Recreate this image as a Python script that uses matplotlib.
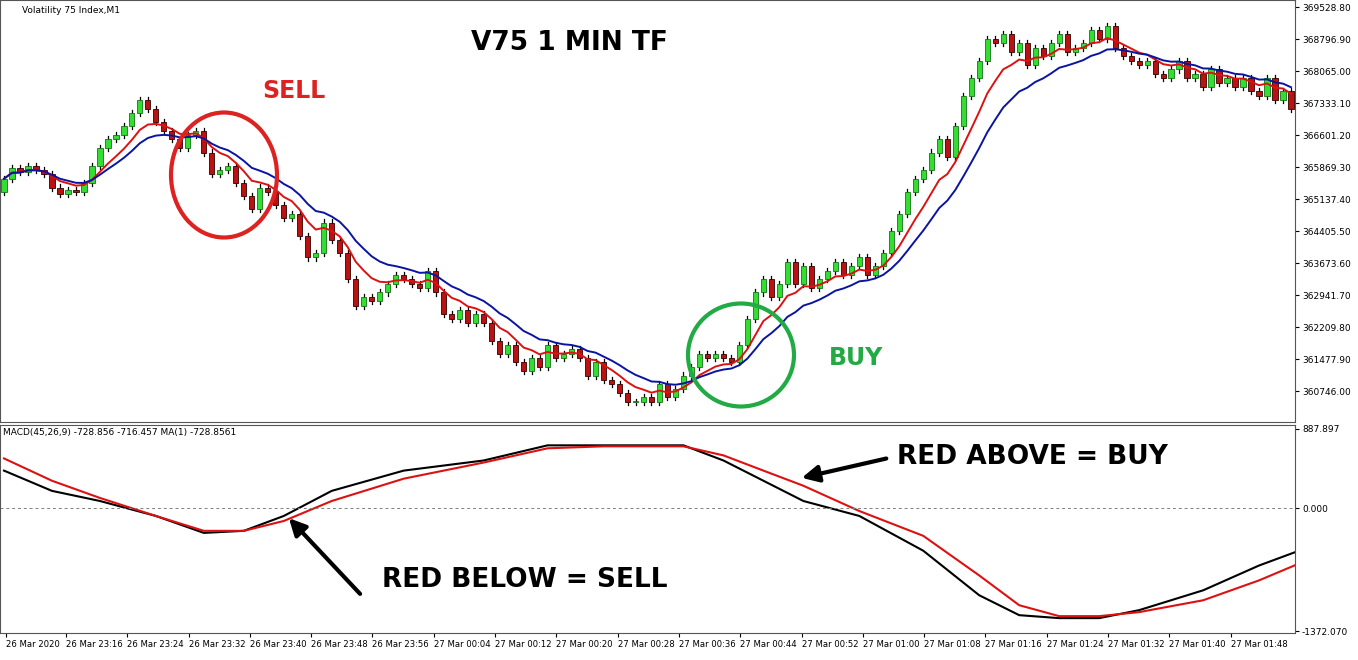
import matplotlib.pyplot as plt
import numpy as np
import pandas as pd
from matplotlib.patches import Ellipse

# candle closes, one per minute
closes = [
    365600, 365850, 365750, 365900, 365800, 365700, 365400, 365250, 365350, 365300,
    365500, 365900, 366300, 366500, 366600, 366800, 367100, 367400, 367200, 366900,
    366700, 366500, 366300, 366600, 366700, 366200, 365700, 365800, 365900, 365500,
    365200, 364900, 365400, 365300, 365000, 364700, 364800, 364300, 363800, 363900,
    364600, 364200, 363900, 363300, 362700, 362900, 362800, 363000, 363200, 363400,
    363300, 363200, 363100, 363500, 363000, 362500, 362400, 362600, 362300, 362500,
    362300, 361900, 361600, 361800, 361400, 361200, 361500, 361300, 361800, 361500,
    361600, 361700, 361500, 361100, 361400, 361000, 360900, 360700, 360500, 360500,
    360600, 360500, 360900, 360600, 360800, 361100, 361300, 361600, 361500, 361600,
    361500, 361400, 361800, 362400, 363000, 363300, 362900, 363200, 363700, 363200,
    363600, 363100, 363300, 363500, 363700, 363400, 363600, 363800, 363400, 363600,
    363900, 364400, 364800, 365300, 365600, 365800, 366200, 366500, 366100, 366800,
    367500, 367900, 368300, 368800, 368700, 368900, 368500, 368700, 368200, 368600,
    368400, 368700, 368900, 368500, 368600, 368700, 369000, 368800, 369100, 368600,
    368400, 368300, 368200, 368300, 368000, 367900, 368100, 368300, 367900, 368000,
    367700, 368100, 367800, 367900, 367700, 367900, 367600, 367500, 367900, 367400,
    367600, 367200,
]
first_open = 365300

# MACD panel (candle index, value)
macd_x = [0, 6, 12, 19, 25, 30, 35, 41, 50, 60, 68, 75, 85, 90, 95, 100,
          107, 115, 122, 127, 132, 137, 142, 150, 157, 162]
macd_main = [418, 192, 79, -88, -277, -254, -88, 192, 418, 531, 700, 700, 700, 531, 305, 79,
             -88, -476, -973, -1195, -1228, -1228, -1139, -918, -641, -476]
macd_sig = [554, 305, 113, -88, -254, -254, -144, 79, 328, 508, 667, 689, 689, 588, 418, 249,
            -33, -310, -752, -1084, -1206, -1206, -1161, -1029, -807, -619]

price_ticks = [369528.80, 368796.90, 368065.00, 367333.10, 366601.20, 365869.30, 365137.40,
               364405.50, 363673.60, 362941.70, 362209.80, 361477.90, 360746.00]
time_labels = ['26 Mar 23:16', '26 Mar 23:24', '26 Mar 23:32', '26 Mar 23:40', '26 Mar 23:48',
               '26 Mar 23:56', '27 Mar 00:04', '27 Mar 00:12', '27 Mar 00:20', '27 Mar 00:28',
               '27 Mar 00:36', '27 Mar 00:44', '27 Mar 00:52', '27 Mar 01:00', '27 Mar 01:08',
               '27 Mar 01:16', '27 Mar 01:24', '27 Mar 01:32', '27 Mar 01:40', '27 Mar 01:48']

W, H = 1358, 660
fig = plt.figure(figsize=(W / 100, H / 100), dpi=100)
ax = fig.add_axes([0, 1 - 422 / H, 1295 / W, 422 / H])
ax2 = fig.add_axes([0, 1 - 633 / H, 1295 / W, 208 / H])

n = len(closes)
idx = np.arange(n)
opens = [first_open] + closes[:-1]
for i in range(n):
    o, c = opens[i], closes[i]
    up = c >= o
    hi, lo = max(o, c) + 70, min(o, c) - 70
    ax.plot([i, i], [lo, hi], color='black', lw=0.9, zorder=2)
    body = max(abs(c - o), 25)
    ax.bar(i, body, bottom=min(o, c), width=0.65,
           color='#33dd33' if up else '#bb1111',
           edgecolor='#117711' if up else '#330000', lw=0.6, zorder=3)

s = pd.Series(closes, dtype=float)
ax.plot(idx, s.ewm(span=7).mean(), color='#dd1111', lw=1.4, zorder=4)
ax.plot(idx, s.ewm(span=13).mean(), color='#0a14a0', lw=1.4, zorder=4)

px_per_idx = 1295 / n
ax.set_xlim(-0.5, n - 0.5)
ax.set_ylim(369528.8 - 415 * 22.87, 369528.8 + 7 * 22.87)
ax.set_xticks([])
ax.yaxis.tick_right()
ax.set_yticks(price_ticks)
ax.set_yticklabels(['%.2f' % p for p in price_ticks], fontsize=6.5)
ax.tick_params(axis='y', length=3, pad=2)

ax.text(565 / px_per_idx, 368550, 'V75 1 MIN TF', fontsize=19, fontweight='bold', ha='center')
ax.text(290 / px_per_idx, 367450, 'SELL', fontsize=17, fontweight='bold', color='#dd2222', ha='center')
ax.text(852 / px_per_idx, 361330, 'BUY', fontsize=17, fontweight='bold', color='#22aa44', ha='center')
ax.text(0.017, 0.985, 'Volatility 75 Index,M1', transform=ax.transAxes, fontsize=6.5, va='top')
ax.add_patch(Ellipse((220 / px_per_idx, 369528.8 - 168 * 22.87), 106 / px_per_idx, 125 * 22.87,
                     fill=False, ec='#dd2222', lw=3, zorder=5))
ax.add_patch(Ellipse((737 / px_per_idx, 369528.8 - 348 * 22.87), 106 / px_per_idx, 103 * 22.87,
                     fill=False, ec='#22aa44', lw=3, zorder=5))

ax2.plot(macd_x, macd_main, color='black', lw=1.5)
ax2.plot(macd_x, macd_sig, color='#dd1111', lw=1.5)
ax2.axhline(0, color='gray', lw=0.7, ls=(0, (3, 3)))
ax2.set_xlim(-0.5, n - 0.5)
ax2.set_ylim(-1394, 927)
ax2.yaxis.tick_right()
ax2.set_yticks([887.897, 0, -1372.07])
ax2.set_yticklabels(['887.897', '0.000', '-1372.070'], fontsize=6.5)
ax2.tick_params(axis='y', length=3, pad=2)
ax2.set_xticks([2 / px_per_idx] + [(62 + 61.3 * k) / px_per_idx for k in range(len(time_labels))])
ax2.set_xticklabels(['26 Mar 2020'] + time_labels, fontsize=6.1, ha='left')
ax2.tick_params(axis='x', length=3, pad=2)
ax2.text(0.002, 0.985, 'MACD(45,26,9) -728.856 -716.457 MA(1) -728.8561',
         transform=ax2.transAxes, fontsize=6.5, va='top')
ax2.text(893 / px_per_idx, 570, 'RED ABOVE = BUY', fontsize=19, fontweight='bold', va='center')
ax2.text(378 / px_per_idx, -800, 'RED BELOW = SELL', fontsize=19, fontweight='bold', va='center')
ax2.annotate('', xy=(795 / px_per_idx, 330), xytext=(885 / px_per_idx, 560),
             arrowprops=dict(arrowstyle='-|>', color='black', lw=3, mutation_scale=25))
ax2.annotate('', xy=(283 / px_per_idx, -90), xytext=(358 / px_per_idx, -980),
             arrowprops=dict(arrowstyle='-|>', color='black', lw=3, mutation_scale=25))

for a in (ax, ax2):
    for sp in a.spines.values():
        sp.set_color('#555555')
        sp.set_linewidth(0.8)

fig.savefig('out.png', dpi=100)
